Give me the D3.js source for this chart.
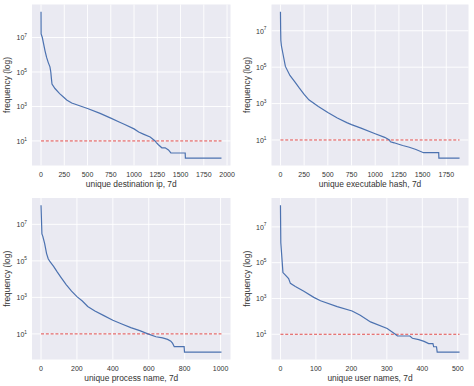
<!DOCTYPE html>
<html>
<head>
<meta charset="utf-8">
<script src="https://cdn.jsdelivr.net/npm/d3@7"></script>
<style>
  body { margin: 0; background: #fff; }
  text { font-family: "Liberation Sans", Arial, sans-serif; }
</style>
</head>
<body>
<div id="chart"></div>
<script>
// rank / frequency breakpoints
const destIpRank = [0, 1, 14, 25, 43, 60, 78, 96, 105, 112, 118, 150, 200, 250, 276, 330, 438, 500, 635, 750, 840, 900, 1000, 1050, 1100, 1173, 1227, 1240, 1262, 1299, 1335, 1370, 1396, 1550, 1552, 1940];
const destIpFreq = [310000000, 16000000, 10000000, 5000000, 1700000, 700000, 350000, 200000, 100000, 40000, 20000, 11000, 5600, 3200, 2400, 1600, 1000, 760, 400, 210, 125, 90, 50, 33, 25, 17, 10, 8, 6, 4, 4, 3, 2, 2, 1, 1];

const exeHashRank = [0, 2, 4, 10, 34, 52, 100, 150, 200, 250, 300, 400, 500, 600, 700, 750, 850, 1000, 1100, 1150, 1160, 1200, 1240, 1290, 1360, 1430, 1510, 1670, 1672, 1890];
const exeHashFreq = [110000000, 12000000, 3000000, 1500000, 340000, 110000, 35000, 16000, 7000, 3200, 1600, 700, 320, 160, 90, 70, 45, 22, 14, 10, 8, 7, 6, 5, 4, 3, 2, 2, 1, 1];

const procNameRank = [0, 5, 10, 20, 31, 40, 50, 70, 90, 110, 140, 170, 200, 230, 260, 300, 350, 400, 450, 500, 550, 595, 640, 677, 705, 723, 733, 742, 797, 799, 1005];
const procNameFreq = [110000000, 3000000, 2200000, 900000, 250000, 130000, 90000, 50000, 25000, 13000, 5000, 2200, 1100, 630, 320, 180, 100, 56, 35, 22, 15, 10, 7, 6, 5, 4, 3, 2, 2, 1, 1];

const userNameRank = [0, 1, 3, 7, 14, 23, 28, 42, 66, 94, 113, 160, 202, 225, 254, 301, 324, 330, 365, 372, 390, 405, 418, 430, 432, 440, 442, 505];
const userNameFreq = [160000000, 1300000, 370000, 28000, 20000, 13000, 7000, 4700, 2500, 1150, 740, 350, 200, 115, 49, 21, 10, 8, 8, 6, 5, 4, 3, 3, 2, 2, 1, 1];

const xTicksIp = [0, 250, 500, 750, 1000, 1250, 1500, 1750, 2000];
const xTicksHash = [0, 250, 500, 750, 1000, 1250, 1500, 1750];
const xTicksProc = [0, 200, 400, 600, 800, 1000];
const xTicksUser = [0, 100, 200, 300, 400, 500];
const yTickExponents = [1, 3, 5, 7];
const threshold = 10;

const xLabels = [
  "unique destination ip, 7d",
  "unique executable hash, 7d",
  "unique process name, 7d",
  "unique user names, 7d"
];

const width = 474,
  height = 386,
  textColor = "#333";

const svg = d3
  .select("#chart")
  .append("svg")
  .attr("width", width)
  .attr("height", height);

const panels = [
  { rank: destIpRank, freq: destIpFreq, ticks: xTicksIp, label: xLabels[0], left: 32, right: 230.5, top: 4.5, bottom: 165.5 },
  { rank: exeHashRank, freq: exeHashFreq, ticks: xTicksHash, label: xLabels[1], left: 271.5, right: 468.5, top: 4.5, bottom: 165.5 },
  { rank: procNameRank, freq: procNameFreq, ticks: xTicksProc, label: xLabels[2], left: 32, right: 230.5, top: 198, bottom: 359.5 },
  { rank: userNameRank, freq: userNameFreq, ticks: xTicksUser, label: xLabels[3], left: 271.5, right: 468.5, top: 198, bottom: 359.5 }
];

const drawPanel = (p) => {
  const n = d3.max(p.rank);
  const x = d3
    .scaleLinear()
    .domain([-0.05 * n, 1.05 * n])
    .range([p.left, p.right]);

  // matplotlib-like margins in log space
  const hi = Math.log10(d3.max(p.freq)),
    lo = Math.log10(d3.min(p.freq));
  const pad = (hi - lo) * 0.05;
  const y = d3
    .scaleLog()
    .domain([Math.pow(10, lo - pad), Math.pow(10, hi + pad)])
    .range([p.bottom, p.top]);

  const g = svg.append("g");

  g.append("rect")
    .attr("x", p.left)
    .attr("y", p.top)
    .attr("width", p.right - p.left)
    .attr("height", p.bottom - p.top)
    .attr("fill", "#eaeaf2");

  // grid
  g.selectAll("line.vgrid")
    .data(p.ticks)
    .join("line")
    .attr("class", "vgrid")
    .attr("x1", (d) => x(d))
    .attr("x2", (d) => x(d))
    .attr("y1", p.top)
    .attr("y2", p.bottom)
    .attr("stroke", "#fff")
    .attr("stroke-width", 0.9);

  g.selectAll("line.hgrid")
    .data(yTickExponents)
    .join("line")
    .attr("class", "hgrid")
    .attr("x1", p.left)
    .attr("x2", p.right)
    .attr("y1", (d) => y(Math.pow(10, d)))
    .attr("y2", (d) => y(Math.pow(10, d)))
    .attr("stroke", "#fff")
    .attr("stroke-width", 0.9);

  // x tick labels
  g.selectAll("text.xtick")
    .data(p.ticks)
    .join("text")
    .attr("class", "xtick")
    .attr("x", (d) => x(d))
    .attr("y", p.bottom + 11.5)
    .attr("text-anchor", "middle")
    .attr("fill", textColor)
    .style("font-size", "7px")
    .text((d) => d);

  // y tick labels, 10 with exponent
  const yt = g
    .selectAll("text.ytick")
    .data(yTickExponents)
    .join("text")
    .attr("class", "ytick")
    .attr("x", p.left - 5)
    .attr("y", (d) => y(Math.pow(10, d)) + 2.8)
    .attr("text-anchor", "end")
    .attr("fill", textColor)
    .style("font-size", "7px");
  yt.append("tspan").text("10");
  yt.append("tspan")
    .attr("dy", -3.2)
    .style("font-size", "4.8px")
    .text((d) => d);

  g.append("text")
    .attr("x", (p.left + p.right) / 2)
    .attr("y", p.bottom + 21.5)
    .attr("text-anchor", "middle")
    .attr("fill", textColor)
    .style("font-size", "8.4px")
    .text(p.label);

  g.append("text")
    .attr(
      "transform",
      `translate(${p.left - 22},${(p.top + p.bottom) / 2}) rotate(-90)`
    )
    .attr("text-anchor", "middle")
    .attr("fill", textColor)
    .style("font-size", "8.4px")
    .text("frequency (log)");

  // threshold line
  g.append("line")
    .attr("x1", x(0))
    .attr("x2", x(n))
    .attr("y1", y(threshold))
    .attr("y2", y(threshold))
    .attr("stroke", "#e04a4a")
    .attr("stroke-width", 1)
    .attr("stroke-dasharray", "3,1.8");

  const line = d3
    .line()
    .x((d) => x(d[0]))
    .y((d) => y(d[1]));

  g.append("path")
    .datum(d3.zip(p.rank, p.freq))
    .attr("d", line)
    .attr("fill", "none")
    .attr("stroke", "#4c72b0")
    .attr("stroke-width", 1.2);
};

panels.forEach(drawPanel);
</script>
</body>
</html>
